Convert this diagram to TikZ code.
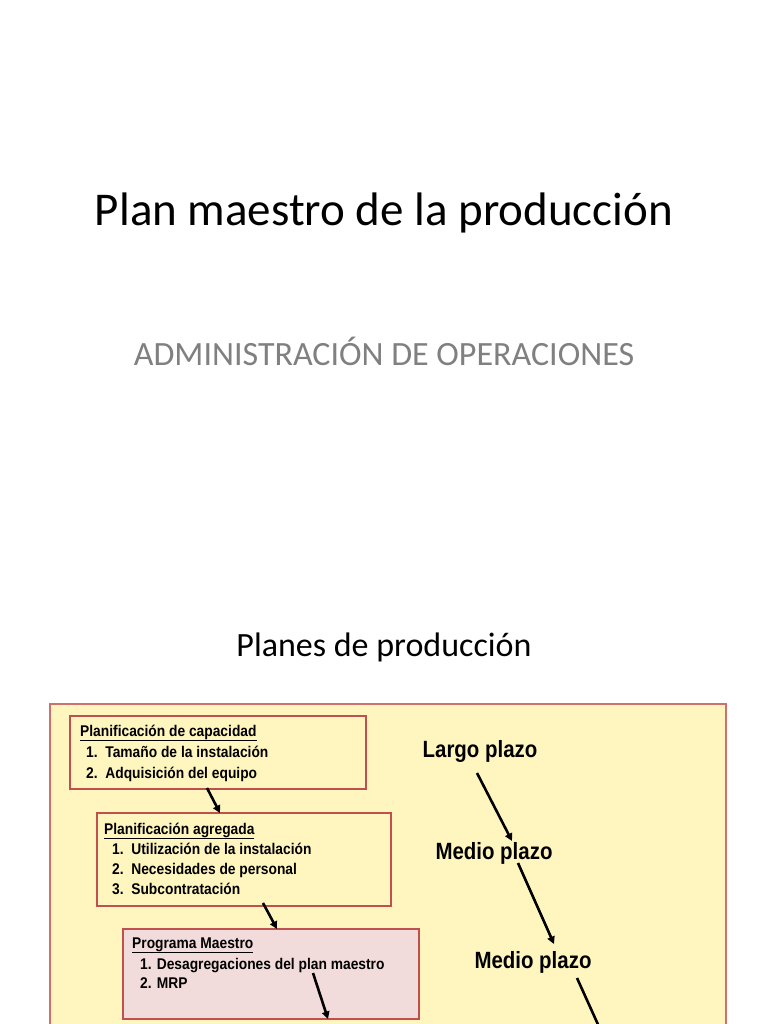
\documentclass[tikz,border=0pt]{standalone}
\usepackage{fontspec}
\setmainfont{Carlito}
\newfontfamily\narrowbold[FakeStretch=0.89, BoldFont={Liberation Sans Bold}, BoldFeatures={FakeStretch=0.89}]{Liberation Sans}
\newfontfamily\termbold[FakeStretch=0.87, BoldFont={Liberation Sans Bold}, BoldFeatures={FakeStretch=0.87}]{Liberation Sans}
\usetikzlibrary{arrows.meta}
\definecolor{panelfill}{HTML}{FFF6BF}
\definecolor{panelline}{HTML}{D0706B}
\definecolor{boxline}{HTML}{C0504D}
\definecolor{pinkfill}{HTML}{F2DCDB}
\definecolor{subgray}{HTML}{808080}
\newcommand{\ulhead}[1]{\underline{#1}}
\tikzset{
  x=1pt, y=-1pt,
  planbox/.style={draw=boxline, line width=2.6pt, fill=panelfill},
  pinkbox/.style={draw=boxline, line width=2.6pt, fill=pinkfill},
  boxtext/.style={anchor=base west, inner sep=0pt, font=\narrowbold\bfseries\fontsize{15.5}{17}\selectfont},
  termtext/.style={anchor=center, inner sep=0pt, font=\termbold\bfseries\fontsize{23.5}{27}\selectfont},
  flow/.style={line width=2.6pt, -{Triangle[length=7.5pt,width=7.5pt]}},
}
\begin{document}
\begin{tikzpicture}
\useasboundingbox (0,0) rectangle (768,1024);
\fill[white] (0,0) rectangle (768,1024);

\node[font=\fontsize{47}{52}\selectfont, inner sep=0pt] (title) at (384,213) {Plan maestro de la producción};
\node[font=\fontsize{34}{38}\selectfont, text=subgray, inner sep=0pt] (subtitle) at (384,351) {ADMINISTRACIÓN DE OPERACIONES};
\node[font=\fontsize{34}{38}\selectfont, inner sep=0pt] (planes) at (384,647) {Planes de producción};

\begin{scope}
\clip (0,0) rectangle (768,1024);
\draw[draw=panelline, line width=1.6pt, fill=panelfill] (50,704) rectangle (726,1040);

% box 1
\draw[planbox] (70,716) rectangle (366,789);
\node[boxtext] (h1) at (80,736) {\ulhead{Planificación de capacidad}};
\node[boxtext] (h1a) at (86,757) {1.\ \ Tamaño de la instalación};
\node[boxtext] (h1b) at (86,778) {2.\ \ Adquisición del equipo};

% box 2
\draw[planbox] (97,813) rectangle (391,906);
\node[boxtext] (h2) at (104,834) {\ulhead{Planificación agregada}};
\node[boxtext] (h2a) at (112,854) {1.\ \ Utilización de la instalación};
\node[boxtext] (h2b) at (112,874) {2.\ \ Necesidades de personal};
\node[boxtext] (h2c) at (112,894) {3.\ \ Subcontratación};

% box 3
\draw[pinkbox] (123,929) rectangle (419,1019);
\node[boxtext] (h3) at (132,948) {\ulhead{Programa Maestro}};
\node[boxtext] (h3a) at (140,969) {1. Desagregaciones del plan maestro};
\node[boxtext] (h3b) at (140,988) {2. MRP};

% arrows between boxes
\coordinate (a1s) at (207,788); \coordinate (a1e) at (220,813);
\coordinate (a2s) at (263,903); \coordinate (a2e) at (277,929);
\coordinate (a3s) at (313,973); \coordinate (a3e) at (328,1019);
\draw[flow] (a1s) -- (a1e);
\draw[flow] (a2s) -- (a2e);
\draw[flow] (a3s) -- (a3e);

% terms
\node[termtext] (t1) at (480,751) {Largo plazo};
\node[termtext] (t2) at (494,853) {Medio plazo};
\node[termtext] (t3) at (533,962) {Medio plazo};
\coordinate (c1s) at (477,773); \coordinate (c1e) at (512,841);
\coordinate (c2s) at (518,863); \coordinate (c2e) at (554,944);
\coordinate (c3s) at (577,978); \coordinate (c3e) at (605,1040);
\draw[flow] (c1s) -- (c1e);
\draw[flow] (c2s) -- (c2e);
\draw[line width=2.6pt] (c3s) -- (c3e);
\end{scope}
\end{tikzpicture}
\end{document}
